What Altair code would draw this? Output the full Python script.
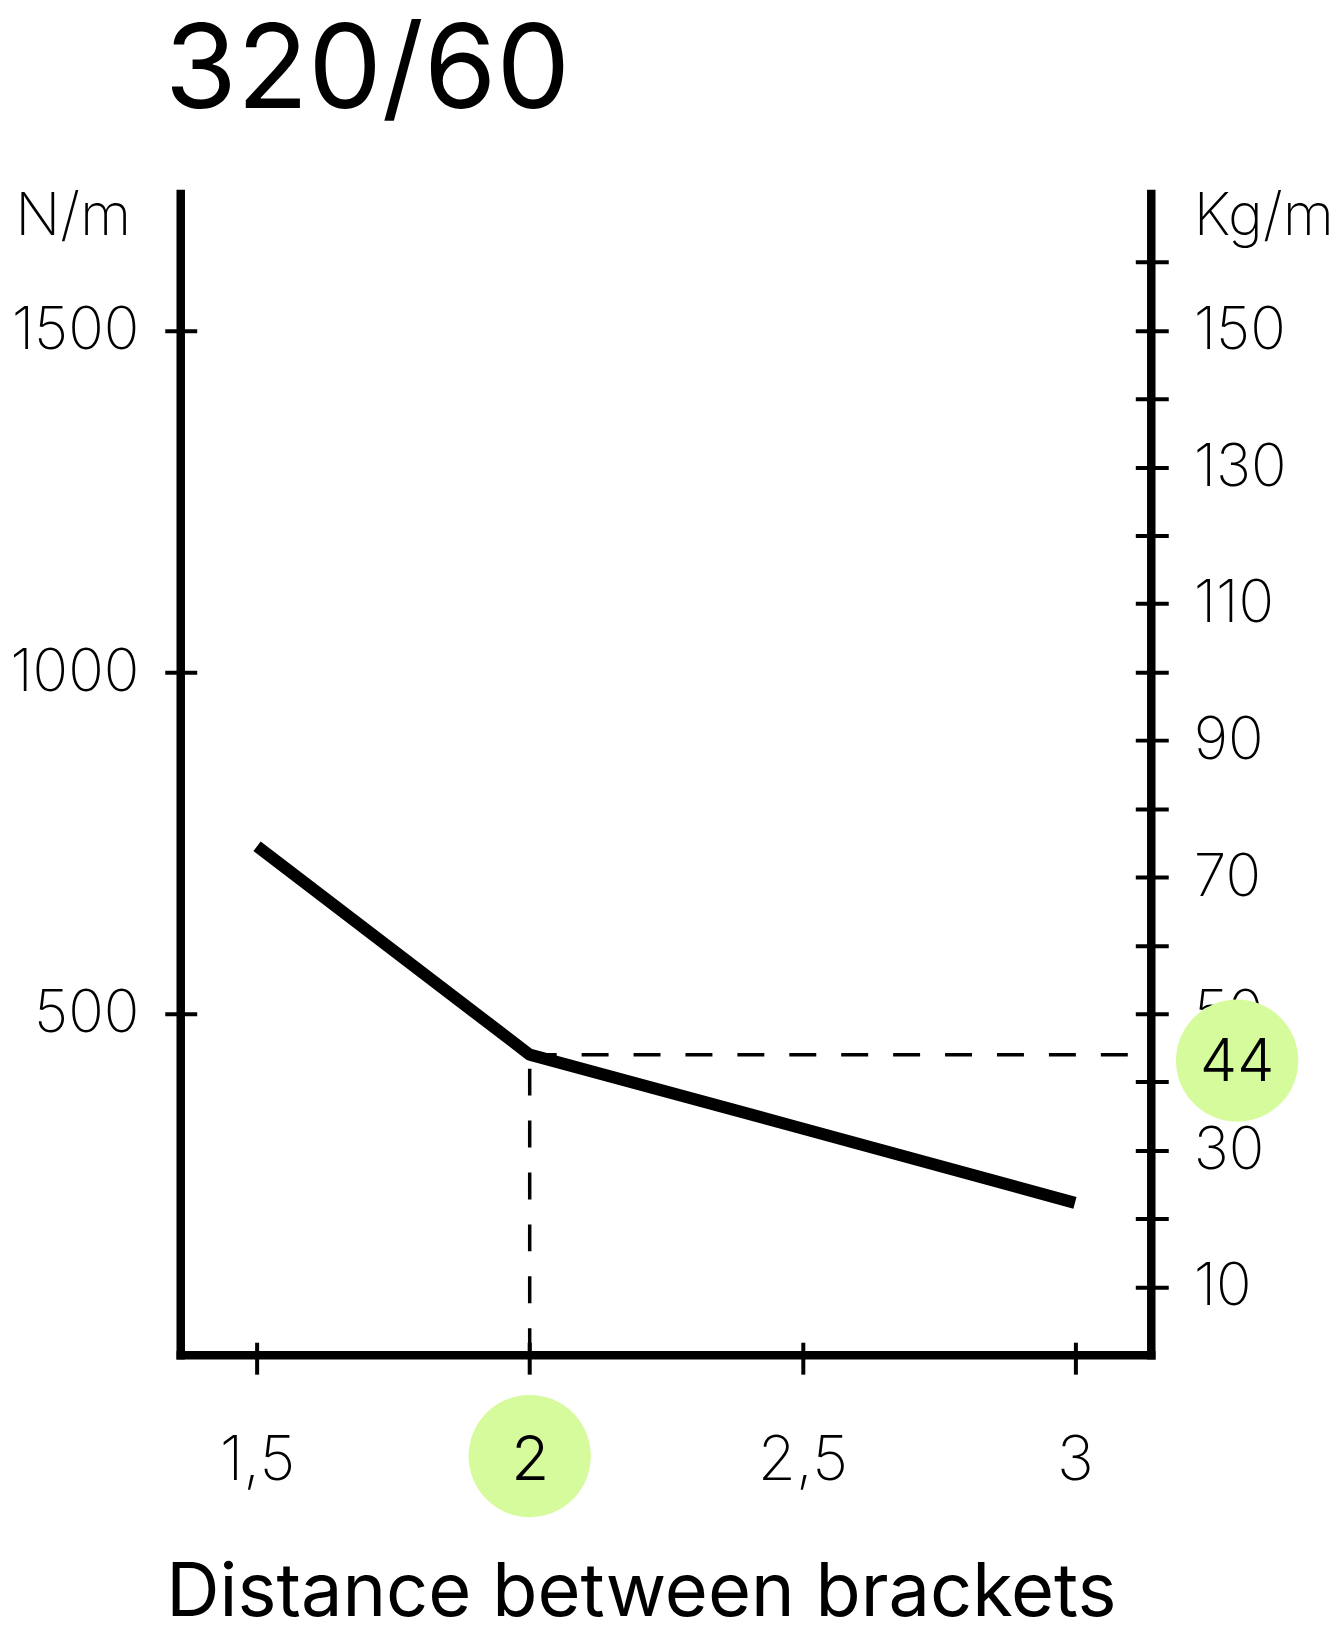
import json
import altair as alt
import pandas as pd

# ---------------- data ----------------
TITLE = "320/60"
X_TITLE = "Distance between brackets"
NM_UNIT = "N/m"
KG_UNIT = "Kg/m"

DIST = [1.5, 2.0, 2.5, 3.0]          # distance between brackets
LOAD_NM = [745, 440, 332, 223]       # load, N/m

SEL_DIST = 2.0                       # highlighted distance
SEL_NM = 440                         # highlighted load in N/m
SEL_KG = 44                          # highlighted load in Kg/m

X_DOMAIN = [1.36, 3.14]
NM_DOMAIN = [0, 1700]
KG_DOMAIN = [0, 170]

X_TICKS = [1.5, 2.0, 2.5, 3.0]
NM_TICKS = [500, 1000, 1500]
KG_TICKS = [10, 20, 30, 40, 50, 60, 70, 80, 90, 100, 110, 120, 130, 140, 150, 160]
KG_LABELED = [10, 30, 50, 70, 90, 110, 130, 150]

# ---------------- style ----------------
W, H = 972, 1163
FONT = "Inter"
GREEN = "#d6fb9d"
INK = "#000000"
BUBBLE = 15000
LIGHT = 200

xscale = alt.Scale(domain=X_DOMAIN, nice=False, zero=False)
nmscale = alt.Scale(domain=NM_DOMAIN, nice=False, zero=False)
kgscale = alt.Scale(domain=KG_DOMAIN, nice=False, zero=False)

x_axis = alt.Axis(
    orient="bottom", values=X_TICKS, format="~g",
    labelExpr="replace(datum.label, '.', ',')",
    domain=False, grid=False, offset=-13, tickSize=32, tickWidth=4, tickColor=INK,
    labelFont=FONT, labelFontSize=62,
    labelFontWeight={"condition": {"test": "datum.value == " + str(SEL_DIST), "value": 300},
                     "value": LIGHT},
    labelColor=INK, labelPadding=56, labelBaseline="top",
    title=X_TITLE, titleFont=FONT, titleFontSize=74, titleFontWeight=400, titleColor=INK,
    titleAnchor="start", titleAlign="left", titleBaseline="alphabetic",
    titleX=-15, titleY=274, zindex=1,
)

nm_axis = alt.Axis(
    orient="left", values=NM_TICKS, format="d",
    domain=False, grid=False, offset=-16, tickSize=32, tickWidth=4, tickColor=INK,
    labelFont=FONT, labelFontSize=59, labelFontWeight=LIGHT, labelColor=INK, labelPadding=26,
    title=NM_UNIT, titleFont=FONT, titleFontSize=59, titleFontWeight=LIGHT, titleColor=INK,
    titleAngle=0, titleAlign="right", titleBaseline="alphabetic", titleX=-66, titleY=41,
    zindex=1,
)

kg_axis = alt.Axis(
    orient="right", values=KG_TICKS, format="d",
    labelExpr="indexof(" + json.dumps(KG_LABELED) + ", datum.value) >= 0 ? datum.label : ''",
    domain=False, grid=False, offset=-16, tickSize=33, tickWidth=4, tickColor=INK,
    labelFont=FONT, labelFontSize=59, labelFontWeight=LIGHT, labelColor=INK, labelPadding=25,
    title=KG_UNIT, titleFont=FONT, titleFontSize=59, titleFontWeight=LIGHT, titleColor=INK,
    titleAngle=0, titleAlign="left", titleBaseline="alphabetic", titleX=58, titleY=41,
    zindex=0,
)

# ---------------- layers (N/m scale) ----------------
frame_df = pd.DataFrame({
    "x": [X_DOMAIN[0], X_DOMAIN[1], X_DOMAIN[0]],
    "x2": [X_DOMAIN[0], X_DOMAIN[1], X_DOMAIN[1]],
    "y": [NM_DOMAIN[0], NM_DOMAIN[0], NM_DOMAIN[0]],
    "y2": [NM_DOMAIN[1], NM_DOMAIN[1], NM_DOMAIN[0]],
})
frame = alt.Chart(frame_df).mark_rule(color=INK, strokeWidth=8.5, strokeCap="square").encode(
    x=alt.X("x:Q", scale=xscale, axis=x_axis),
    x2="x2:Q",
    y=alt.Y("y:Q", scale=nmscale, axis=nm_axis),
    y2="y2:Q",
)

dash_df = pd.DataFrame({
    "x": [SEL_DIST, SEL_DIST],
    "x2": [X_DOMAIN[1], SEL_DIST],
    "y": [SEL_NM, NM_DOMAIN[0]],
    "y2": [SEL_NM, SEL_NM],
})
dashes = alt.Chart(dash_df).mark_rule(color=INK, strokeWidth=3.5, strokeDash=[27, 25]).encode(
    x=alt.X("x:Q", scale=xscale, axis=x_axis),
    x2="x2:Q",
    y=alt.Y("y:Q", scale=nmscale, axis=nm_axis),
    y2="y2:Q",
)

line_df = pd.DataFrame({"x": DIST, "y": LOAD_NM})
line = alt.Chart(line_df).mark_line(color=INK, strokeWidth=12, strokeJoin="bevel").encode(
    x=alt.X("x:Q", scale=xscale, axis=x_axis),
    y=alt.Y("y:Q", scale=nmscale, axis=nm_axis),
)

bsel_df = pd.DataFrame({"x": [SEL_DIST]})
bottom_circle = alt.Chart(bsel_df).mark_circle(color=GREEN, opacity=1, size=BUBBLE).encode(
    x=alt.X("x:Q", scale=xscale, axis=x_axis),
    y=alt.value(H + 101),
)

left_group = alt.layer(frame, dashes, line, bottom_circle)

# ---------------- layers (Kg/m scale) ----------------
ksel_df = pd.DataFrame({"kg": [SEL_KG], "label": [str(SEL_KG)]})
right_circle = alt.Chart(ksel_df).mark_circle(color=GREEN, opacity=1, size=BUBBLE, yOffset=6).encode(
    x=alt.value(W + 86),
    y=alt.Y("kg:Q", scale=kgscale, axis=kg_axis),
)
right_text = alt.Chart(ksel_df).mark_text(
    font=FONT, fontSize=59, fontWeight=300, color=INK, align="center", baseline="middle", dy=8
).encode(
    x=alt.value(W + 86),
    y=alt.Y("kg:Q", scale=kgscale, axis=kg_axis),
    text="label:N",
)
right_group = alt.layer(right_circle, right_text)

chart = alt.layer(left_group, right_group).resolve_scale(y="independent").properties(
    width=W,
    height=H,
    background="white",
    title=alt.Title(
        TITLE, anchor="start", frame="group", font=FONT, fontSize=117, fontWeight=400,
        color=INK, baseline="alphabetic", offset=76, dx=-16, dy=113,
    ),
    padding={"left": 173, "top": 185, "right": 184, "bottom": 280},
    autosize=alt.AutoSizeParams(type="none"),
).configure_view(strokeWidth=0, stroke="transparent")

chart.save("out.html", embed_options={"renderer": "svg", "actions": False})
